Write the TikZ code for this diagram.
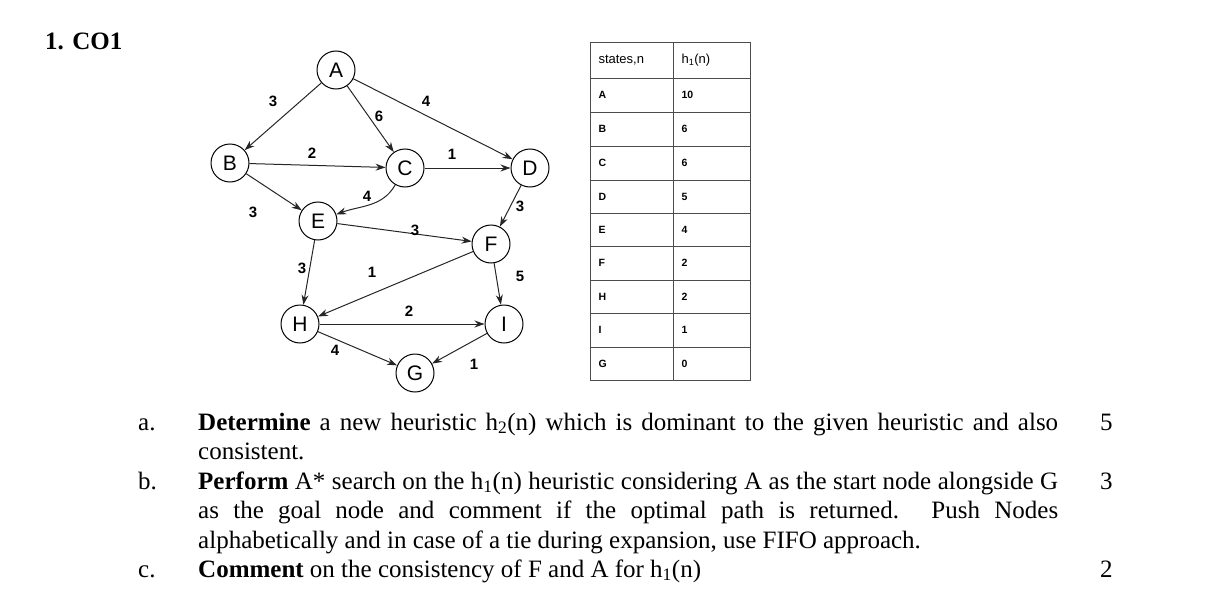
\documentclass[tikz,border=0pt]{standalone}
\usepackage{fontspec}
\setmainfont{Liberation Serif}
\newfontfamily\arialf{Liberation Sans}
\usetikzlibrary{arrows.meta}
\begin{document}
\begin{tikzpicture}[x=1pt,y=-1pt,
 gn/.style={circle,draw,line width=1pt,minimum size=38pt,inner sep=0pt,font=\arialf\fontsize{21}{21}\selectfont},
 ed/.style={-{Stealth[length=10pt,width=7pt]},line width=1pt,draw=black!85},
 wl/.style={font=\arialf\bfseries\fontsize{15}{15}\selectfont},
 tc/.style={font=\arialf\bfseries\fontsize{10.5}{10.5}\selectfont,anchor=west},
 qt/.style={anchor=base west,inner sep=0pt,font=\fontsize{25}{25}\selectfont}]
\useasboundingbox (0,0) rectangle (1215,594);
\node[qt,font=\bfseries\fontsize{25}{25}\selectfont] (t) at (45,50) {1. CO1};
% nodes
\node[gn] (A) at (336,70) {A};
\node[gn] (B) at (230,163) {B};
\node[gn] (C) at (405,168) {C};
\node[gn] (D) at (530,168) {D};
\node[gn] (E) at (318,221) {E};
\node[gn] (F) at (491,244) {F};
\node[gn] (H) at (300,324) {H};
\node[gn] (I) at (504,324) {I};
\node[gn] (G) at (415,373) {G};
\draw[ed] (A) -- (B);
\draw[ed] (A) -- (C);
\draw[ed] (A) -- (D);
\draw[ed] (B) -- (C);
\draw[ed] (C) -- (D);
\draw[ed] (B) -- (E);
\draw[ed] (C) to[out=-120,in=20] (E);
\draw[ed] (D) -- (F);
\draw[ed] (E) -- (F);
\draw[ed] (E) -- (H);
\draw[ed] (F) -- (H);
\draw[ed] (F) -- (I);
\draw[ed] (H) -- (I);
\draw[ed] (H) -- (G);
\draw[ed] (I) -- (G);
\node[wl] (l1) at (273,101) {3};
\node[wl] (l2) at (379,116) {6};
\node[wl] (l3) at (426,101) {4};
\node[wl] (l4) at (312,153) {2};
\node[wl] (l5) at (452,154) {1};
\node[wl] (l6) at (253,212) {3};
\node[wl] (l7) at (367,196) {4};
\node[wl] (l8) at (520,206) {3};
\node[wl] (l9) at (415,230) {3};
\node[wl] (l10) at (302,268) {3};
\node[wl] (l11) at (372,272) {1};
\node[wl] (l12) at (520,276) {5};
\node[wl] (l13) at (409,311) {2};
\node[wl] (l14) at (335,350) {4};
\node[wl] (l15) at (474,364) {1};
% table
\draw[line width=0.9pt,black!70] (590,42) rectangle (750,380);
\draw[line width=0.9pt,black!70] (673,42) -- (673,380);
\foreach \y in {78,112,146,180,213,246,280,313,347} \draw[line width=0.9pt,black!70] (590,\y) -- (750,\y);
\node[tc,font=\arialf\fontsize{13}{13}\selectfont] (h1) at (595,60) {states,n};
\node[tc,font=\arialf\fontsize{13}{13}\selectfont] (h2) at (678,60) {h\textsubscript{1}(n)};
\foreach \s/\v/\y in {A/10/95,B/6/129,C/6/163,D/5/197,E/4/230,F/2/263,H/2/297,I/1/330,G/0/364}{
 \node[tc] at (595,\y) {\s};
 \node[tc] at (678,\y) {\v};
}
% questions
\node[qt] (qa) at (138,430) {a.};
\node[qt] (a1) at (198,430) {\makebox[860pt][s]{\textbf{Determine} a new heuristic h\textsubscript{2}(n) which is dominant to the given heuristic and also}};
\node[qt] (a2) at (198,459) {consistent.};
\node[qt] (ma) at (1100,430) {5};
\node[qt] (qb) at (138,489) {b.};
\node[qt] (b1) at (198,489) {\makebox[860pt][s]{\textbf{Perform} A* search on the h\textsubscript{1}(n) heuristic considering A as the start node alongside G}};
\node[qt] (b2) at (198,518) {\makebox[860pt][s]{as the goal node and comment if the optimal path is returned. Push Nodes}};
\node[qt] (b3) at (198,548) {alphabetically and in case of a tie during expansion, use FIFO approach.};
\node[qt] (mb) at (1100,489) {3};
\node[qt] (qc) at (138,577) {c.};
\node[qt] (c1) at (198,577) {\textbf{Comment} on the consistency of F and A for h\textsubscript{1}(n)};
\node[qt] (mc) at (1100,577) {2};
\end{tikzpicture}
\end{document}
